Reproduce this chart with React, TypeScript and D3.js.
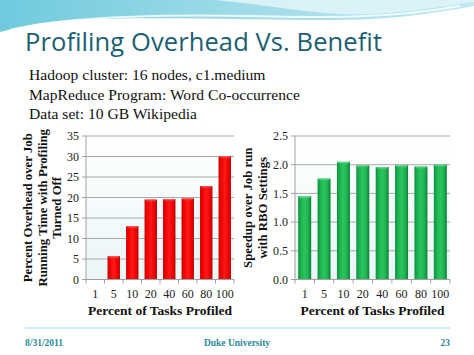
import React from "react";
import * as d3 from "d3";

const categories = ["1", "5", "10", "20", "40", "60", "80", "100"];
const overheadValues = [0, 5.7, 13.0, 19.5, 19.6, 19.8, 22.8, 30.1];
const speedupValues = [1.45, 1.76, 2.05, 1.99, 1.96, 1.99, 1.97, 2.0];
const overheadTicks = [0, 5, 10, 15, 20, 25, 30, 35];
const speedupTicks = [0, 0.5, 1.0, 1.5, 2.0, 2.5];
const infoLines = [
  "Hadoop cluster: 16 nodes, c1.medium",
  "MapReduce Program: Word Co-occurrence",
  "Data set: 10 GB Wikipedia",
];
const overheadTitle = ["Percent Overhead over Job", "Running Time with Profiling", "Turned Off"];
const speedupTitle = ["Speedup over Job run", "with RBO Settings"];

const SERIF = "'Liberation Serif', 'Times New Roman', serif";

type PanelProps = {
  x0: number;
  x1: number;
  y0: number;
  y1: number;
  values: number[];
  ticks: number[];
  max: number;
  fmt: (v: number) => string;
  grad: string;
  titleLines: string[];
  titleX: number[];
  id: string;
};

function Panel(p: PanelProps) {
  const x = d3.scaleBand<string>().domain(categories).range([p.x0, p.x1]).paddingInner(0.33).paddingOuter(0.165);
  const y = d3.scaleLinear().domain([0, p.max]).range([p.y1, p.y0]);
  const step = x.step();
  const boundaries = d3.range(categories.length + 1).map((i) => p.x0 + i * step);
  const midY = (p.y0 + p.y1) / 2;
  return (
    <g>
      <rect x={p.x0} y={p.y0} width={p.x1 - p.x0} height={p.y1 - p.y0} fill={`url(#bg-${p.id})`} />
      {p.ticks.map((t) => (
        <g key={t}>
          {t > 0 && (
            <line x1={p.x0} x2={p.x1} y1={y(t)} y2={y(t)} stroke="#a9a9a9" strokeWidth={1} />
          )}
          <line x1={p.x0 - 4} x2={p.x0} y1={y(t)} y2={y(t)} stroke="#a0a0a0" />
          <text x={p.x0 - 7} y={y(t)} dy="0.35em" textAnchor="end" fontFamily={SERIF} fontSize={12} fill="#222">
            {p.fmt(t)}
          </text>
        </g>
      ))}
      {categories.map((c, i) => {
        const v = p.values[i];
        const bx = x(c)!;
        const bw = x.bandwidth();
        const top = y(v);
        const h = p.y1 - top;
        return (
          <g key={c}>
            {h > 0 && (
              <g>
                <rect x={bx} y={top} width={bw} height={h} fill={`url(#${p.grad})`} />
                <rect x={bx + 1} y={top} width={bw - 2} height={3} fill={`url(#${p.grad}-top)`} />
              </g>
            )}
            <text x={bx + bw / 2} y={p.y1 + 18} textAnchor="middle" fontFamily={SERIF} fontSize={12} fill="#222">
              {c}
            </text>
          </g>
        );
      })}
      <line x1={p.x0} x2={p.x0} y1={p.y0} y2={p.y1} stroke="#a0a0a0" />
      <line x1={p.x0} x2={p.x1} y1={p.y1} y2={p.y1} stroke="#a0a0a0" />
      {boundaries.map((bxv, i) => (
        <line key={i} x1={bxv} x2={bxv} y1={p.y1} y2={p.y1 + 4} stroke="#a0a0a0" />
      ))}
      <text
        x={(p.x0 + p.x1) / 2}
        y={p.y1 + 35}
        textAnchor="middle"
        fontFamily={SERIF}
        fontWeight="bold"
        fontSize={13.5}
        fill="#111"
      >
        Percent of Tasks Profiled
      </text>
      {p.titleLines.map((t, i) => (
        <text
          key={t}
          transform={`translate(${p.titleX[i]},${midY}) rotate(-90)`}
          textAnchor="middle"
          dy="0.35em"
          fontFamily={SERIF}
          fontWeight="bold"
          fontSize={12.8}
          fill="#111"
        >
          {t}
        </text>
      ))}
    </g>
  );
}

export default function App() {
  return (
    <svg width={474} height={355} style={{ position: "absolute", left: 0, top: 0, background: "#fff" }}>
      <defs>
        <linearGradient id="redBar" x1="0" x2="1" y1="0" y2="0">
          <stop offset="0" stopColor="#c80000" />
          <stop offset="0.2" stopColor="#f00000" />
          <stop offset="0.5" stopColor="#ff1a1a" />
          <stop offset="0.8" stopColor="#f00000" />
          <stop offset="1" stopColor="#b80000" />
        </linearGradient>
        <linearGradient id="redBar-top" x1="0" x2="0" y1="0" y2="1">
          <stop offset="0" stopColor="#ff6a6a" />
          <stop offset="1" stopColor="#ff2020" stopOpacity={0} />
        </linearGradient>
        <linearGradient id="greenBar" x1="0" x2="1" y1="0" y2="0">
          <stop offset="0" stopColor="#0d8f3e" />
          <stop offset="0.25" stopColor="#1fb552" />
          <stop offset="0.5" stopColor="#2bc45e" />
          <stop offset="0.75" stopColor="#1fb552" />
          <stop offset="1" stopColor="#0b8038" />
        </linearGradient>
        <linearGradient id="greenBar-top" x1="0" x2="0" y1="0" y2="1">
          <stop offset="0" stopColor="#7be3a0" />
          <stop offset="1" stopColor="#2bc45e" stopOpacity={0} />
        </linearGradient>
        <linearGradient id="bg-a" x1="0" x2="0" y1="0" y2="1">
          <stop offset="0" stopColor="#ffffff" />
          <stop offset="1" stopColor="#eaf6f7" />
        </linearGradient>
        <linearGradient id="bg-b" x1="0" x2="0" y1="0" y2="1">
          <stop offset="0" stopColor="#ffffff" />
          <stop offset="1" stopColor="#eaf6f7" />
        </linearGradient>
        <linearGradient id="wave" x1="0" x2="1" y1="0" y2="0">
          <stop offset="0" stopColor="#6fcade" />
          <stop offset="0.5" stopColor="#9edbe8" />
          <stop offset="1" stopColor="#c0e9f1" />
        </linearGradient>
      </defs>
      <rect x={0} y={0} width={474} height={355} fill="#fff" />
      {/* top decorative wave */}
      <path d="M0,0 H474 V6 C430,14 390,20 330,20 C250,20 150,16 70,20 C40,22 15,28 0,32 Z" fill="url(#wave)" />
      <path d="M215,0 C260,4 300,12 340,14 C380,16 420,10 474,2 V0 Z" fill="#dff4f8" opacity={0.9} />
      <path d="M10,30 C60,18 150,14 250,16 C320,17 380,20 460,6" fill="none" stroke="#ffffff" strokeWidth={2} opacity={0.8} />
      <text x={25} y={51} fontFamily="'Open Sans', sans-serif" fontSize={25.5} fill="#1c5f72" textLength={357}>
        Profiling Overhead Vs. Benefit
      </text>
      {infoLines.map((t, i) => (
        <text key={t} x={29} y={80 + i * 19.5} fontFamily={SERIF} fontSize={15.6} fill="#111">
          {t}
        </text>
      ))}
      <Panel
        id="a"
        x0={86}
        x1={234}
        y0={136}
        y1={279.5}
        values={overheadValues}
        ticks={overheadTicks}
        max={35}
        fmt={(v) => String(v)}
        grad="redBar"
        titleLines={overheadTitle}
        titleX={[28, 42.5, 57]}
      />
      <Panel
        id="b"
        x0={295}
        x1={450}
        y0={136}
        y1={279.5}
        values={speedupValues}
        ticks={speedupTicks}
        max={2.5}
        fmt={(v) => v.toFixed(1)}
        grad="greenBar"
        titleLines={speedupTitle}
        titleX={[248, 262.5]}
      />
      <rect x={25} y={327} width={425} height={2} fill="#cdeef3" />
      <text x={25} y={346} fontFamily={SERIF} fontWeight="bold" fontSize={9.5} fill="#2b8b9b">
        8/31/2011
      </text>
      <text x={237} y={346} textAnchor="middle" fontFamily={SERIF} fontWeight="bold" fontSize={9.5} fill="#2b8b9b">
        Duke University
      </text>
      <text x={450} y={346} textAnchor="end" fontFamily={SERIF} fontWeight="bold" fontSize={9.5} fill="#2b8b9b">
        23
      </text>
    </svg>
  );
}
